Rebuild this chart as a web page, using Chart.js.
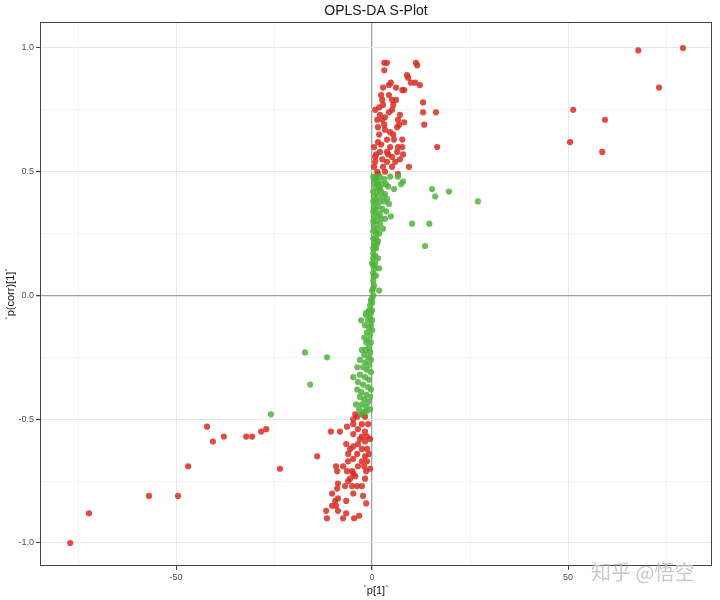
<!DOCTYPE html>
<html>
<head>
<meta charset="utf-8">
<script src="https://cdn.jsdelivr.net/npm/chart.js@4.4.0/dist/chart.umd.min.js"></script>
<style>
  html, body { margin: 0; padding: 0; background: #fff; }
  #wrap { width: 720px; height: 600px; }
</style>
</head>
<body>
<div id="wrap"><canvas id="splot"></canvas></div>
<script>
// [p[1], p(corr)[1]] pairs
const redOutliers = [
  [67.9, 0.99], [79.3, 1.0], [73.2, 0.84], [51.3, 0.75], [59.4, 0.71], [50.5, 0.62], [58.7, 0.58],
  [-77.0, -1.0], [-72.2, -0.88], [-56.9, -0.81], [-49.5, -0.81], [-46.9, -0.69], [-42.1, -0.53],
  [-40.6, -0.59], [-37.8, -0.57], [-32.1, -0.57], [-30.6, -0.57], [-28.3, -0.55], [-27.0, -0.54],
  [-23.5, -0.70], [-14.0, -0.65]
];
const redUpper = [
  [3.8, 0.94], [3.1, 0.94], [3.1, 0.91], [11.2, 0.94], [11.5, 0.93], [8.9, 0.89], [9.2, 0.88],
  [9.9, 0.86], [11.0, 0.86], [12.2, 0.85], [4.8, 0.86], [4.3, 0.85], [2.8, 0.84], [6.1, 0.84],
  [7.7, 0.83], [8.2, 0.83], [13.0, 0.78], [13.0, 0.74], [16.3, 0.74], [13.3, 0.69], [16.6, 0.60],
  [0.8, 0.75], [2.3, 0.81], [4.3, 0.81], [5.1, 0.79], [2.6, 0.79], [2.8, 0.77], [5.4, 0.77],
  [5.1, 0.75], [7.1, 0.73], [2.0, 0.73], [3.3, 0.72], [2.6, 0.71], [6.6, 0.71], [8.2, 0.70],
  [1.5, 0.68], [3.3, 0.67], [4.6, 0.66], [6.4, 0.68], [6.9, 0.69], [1.8, 0.65], [3.8, 0.63],
  [7.7, 0.63], [5.6, 0.63], [1.5, 0.62], [4.6, 0.60], [6.6, 0.60], [7.7, 0.60], [0.5, 0.60],
  [2.0, 0.58], [3.8, 0.58], [6.4, 0.58], [7.9, 0.57], [0.8, 0.56], [2.6, 0.55], [5.1, 0.56],
  [7.1, 0.55], [0.8, 0.54], [3.8, 0.54], [5.9, 0.54], [0.5, 0.52], [2.8, 0.52], [5.1, 0.52],
  [9.4, 0.52], [1.3, 0.50], [3.3, 0.50], [6.6, 0.49], [1.5, 0.49], [1.0, 0.57], [4.1, 0.57],
  [2.3, 0.61], [5.4, 0.65], [3.1, 0.69], [1.3, 0.71], [4.3, 0.74], [6.1, 0.79], [1.8, 0.76]
];
const redLower = [
  [-4.8, -0.50], [-3.8, -0.49], [-1.8, -0.49], [-2.6, -0.52], [-4.8, -0.52], [-1.0, -0.52],
  [-6.4, -0.53], [-10.5, -0.55], [-8.2, -0.55], [-3.6, -0.54], [-1.8, -0.55], [-4.8, -0.56],
  [-2.6, -0.57], [-1.3, -0.57], [-6.6, -0.60], [-3.6, -0.60], [-1.8, -0.59], [-4.8, -0.61],
  [-2.6, -0.62], [-1.3, -0.62], [-6.1, -0.64], [-3.8, -0.64], [-1.8, -0.65], [-4.8, -0.66],
  [-2.6, -0.67], [-1.3, -0.67], [-6.1, -0.67], [-3.6, -0.69], [-9.2, -0.69], [-7.4, -0.69],
  [-5.1, -0.71], [-1.5, -0.71], [-8.9, -0.71], [-6.4, -0.71], [-4.8, -0.72], [-4.3, -0.73],
  [-5.6, -0.74], [-1.8, -0.74], [-8.7, -0.76], [-6.1, -0.75], [-6.9, -0.77], [-5.1, -0.77],
  [-3.8, -0.77], [-2.6, -0.77], [-8.9, -0.78], [-4.8, -0.80], [-10.2, -0.80], [-2.3, -0.81],
  [-9.4, -0.83], [-6.6, -0.83], [-8.7, -0.82], [-1.5, -0.84], [-10.2, -0.85], [-9.2, -0.85],
  [-11.7, -0.87], [-8.7, -0.87], [-11.5, -0.90], [-7.4, -0.90], [-6.6, -0.88], [-4.6, -0.90],
  [-3.3, -0.89], [-4.3, -0.48], [-2.6, -0.48], [-0.5, -0.58], [-0.8, -0.64], [-3.1, -0.58],
  [-5.6, -0.62], [-2.0, -0.69], [-0.5, -0.70]
];
const greenOutliers = [
  [15.3, 0.43], [19.6, 0.42], [16.1, 0.40], [27.0, 0.38], [10.2, 0.29], [14.6, 0.29], [13.5, 0.20],
  [-25.8, -0.48], [-17.1, -0.23], [-11.5, -0.25], [-15.8, -0.36]
];
const greenUpper = [
  [0.3, 0.48], [1.0, 0.48], [2.0, 0.48], [3.1, 0.47], [4.6, 0.48], [6.6, 0.48], [7.9, 0.46],
  [7.4, 0.45], [0.5, 0.46], [1.5, 0.46], [2.6, 0.45], [3.6, 0.45], [0.8, 0.44], [1.8, 0.44],
  [4.1, 0.44], [5.6, 0.43], [0.3, 0.42], [1.3, 0.42], [2.3, 0.42], [3.3, 0.41], [0.5, 0.40],
  [1.5, 0.40], [2.8, 0.40], [3.8, 0.39], [0.3, 0.38], [1.0, 0.38], [2.0, 0.38], [4.3, 0.37],
  [0.5, 0.36], [1.5, 0.36], [2.6, 0.35], [0.3, 0.34], [1.0, 0.34], [2.0, 0.33], [3.6, 0.34],
  [4.8, 0.32], [0.5, 0.32], [1.5, 0.32], [3.3, 0.31], [0.3, 0.30], [1.0, 0.30], [2.0, 0.29],
  [0.5, 0.28], [1.3, 0.27], [2.8, 0.27], [0.3, 0.26], [1.0, 0.25], [1.8, 0.25], [0.3, 0.23],
  [1.0, 0.23], [0.5, 0.21], [1.3, 0.21], [0.3, 0.19], [1.0, 0.19], [0.3, 0.17], [0.8, 0.16],
  [1.5, 0.15], [0.3, 0.15], [0.8, 0.13], [0.3, 0.12], [0.8, 0.11], [1.8, 0.11], [0.3, 0.09],
  [0.5, 0.08], [0.3, 0.06], [0.5, 0.04], [0.3, 0.03], [1.8, 0.02], [0.0, 0.02], [0.3, 0.00],
  [0.8, 0.47], [1.3, 0.45], [2.0, 0.43], [3.1, 0.38], [2.3, 0.31], [1.5, 0.22], [0.8, 0.20],
  [0.0, 0.13], [1.0, 0.08]
];
const greenLower = [
  [0.0, -0.01], [-0.3, -0.02], [0.0, -0.03], [-0.5, -0.04], [0.0, -0.06], [-0.8, -0.06],
  [-0.3, -0.07], [-1.5, -0.07], [-1.5, -0.08], [-0.5, -0.09], [0.0, -0.10], [-2.8, -0.10],
  [-1.0, -0.10], [-0.3, -0.12], [-1.8, -0.12], [-0.8, -0.13], [0.0, -0.14], [-1.3, -0.15],
  [-0.5, -0.16], [-2.0, -0.17], [-1.0, -0.18], [-0.3, -0.19], [-1.5, -0.19], [-0.8, -0.21],
  [-2.6, -0.22], [-1.5, -0.22], [-0.5, -0.23], [-2.0, -0.24], [-1.0, -0.25], [-0.3, -0.26],
  [-3.1, -0.26], [-1.8, -0.27], [-0.8, -0.28], [-3.8, -0.29], [-2.3, -0.29], [-1.3, -0.30],
  [-0.3, -0.31], [-4.8, -0.33], [-3.1, -0.32], [-1.8, -0.33], [-0.8, -0.34], [-3.6, -0.35],
  [-2.3, -0.36], [-1.0, -0.37], [-0.3, -0.38], [-3.8, -0.38], [-2.8, -0.39], [-1.5, -0.40],
  [-0.5, -0.41], [-3.1, -0.41], [-2.0, -0.42], [-1.0, -0.43], [-4.1, -0.44], [-2.6, -0.44],
  [-1.5, -0.45], [-0.5, -0.46], [-3.3, -0.46], [-2.0, -0.47], [-2.8, -0.48], [-1.5, -0.47]
];
const xTickValues = [-75, -50, -25, 0, 25, 50, 75];
const yTickValues = [-1, -0.75, -0.5, -0.25, 0, 0.25, 0.5, 0.75, 1];
const xMajor = [-50, 0, 50];
const yMajor = [-1, -0.5, 0, 0.5, 1];

const toPts = arr => arr.map(p => ({ x: p[0], y: p[1] }));
const redPts = toPts([...redOutliers, ...redUpper, ...redLower]);
const greenPts = toPts([...greenOutliers, ...greenUpper, ...greenLower]);

const gridColor = (major) => ctx => {
  const v = ctx.tick ? ctx.tick.value : null;
  if (v === 0) return '#a0a0a0';
  return major.includes(v) ? '#e8e8e8' : '#f3f3f3';
};
const tickColor = (major) => ctx => {
  const v = ctx.tick ? ctx.tick.value : null;
  return major.includes(v) ? '#444' : 'rgba(0,0,0,0)';
};

const framePlugin = {
  id: 'frame',
  afterDraw(chart) {
    const { ctx, chartArea: a } = chart;
    ctx.save();
    ctx.strokeStyle = '#444';
    ctx.lineWidth = 1;
    ctx.strokeRect(a.left + 0.5, a.top + 0.5, a.right - a.left - 1, a.bottom - a.top - 1);
    // title
    ctx.fillStyle = '#1a1a1a';
    ctx.font = '14px "Liberation Sans", Arial, sans-serif';
    ctx.textAlign = 'center';
    ctx.textBaseline = 'middle';
    ctx.fillText('OPLS-DA S-Plot', (a.left + a.right) / 2, 11);
    // watermark
    ctx.fillStyle = 'rgba(190,190,190,0.85)';
    ctx.font = '20px "Noto Sans CJK SC", sans-serif';
    ctx.textAlign = 'left';
    ctx.fillText('知乎 @悟空', 591, 572);
    ctx.restore();
  }
};

new Chart(document.getElementById('splot').getContext('2d'), {
  type: 'scatter',
  data: {
    datasets: [
      { label: 'green', data: greenPts, backgroundColor: 'rgba(80,180,60,0.85)', borderWidth: 0, pointRadius: 3.1 },
      { label: 'red', data: redPts, backgroundColor: 'rgba(218,45,35,0.85)', borderWidth: 0, pointRadius: 3.1 }
    ]
  },
  options: {
    responsive: true,
    maintainAspectRatio: false,
    animation: false,
    layout: { padding: { top: 22, right: 8, left: 0, bottom: 0 } },
    plugins: { legend: { display: false }, tooltip: { enabled: false }, title: { display: false } },
    scales: {
      x: {
        type: 'linear',
        min: -84.7,
        max: 86.7,
        afterBuildTicks: s => { s.ticks = xTickValues.map(v => ({ value: v })); },
        afterFit: s => { s.height = 34; },
        border: { display: false },
        grid: { color: gridColor(xMajor), lineWidth: c => (c.tick && c.tick.value === 0 ? 1.3 : 1), tickLength: 4, tickColor: tickColor(xMajor) },
        ticks: {
          autoSkip: false, maxRotation: 0, padding: 2, color: '#4d4d4d',
          font: { size: 9, family: '"Liberation Sans", Arial, sans-serif' },
          callback: v => (xMajor.includes(v) ? String(v) : '')
        },
        title: { display: true, text: '`p[1]`', color: '#111', font: { size: 11, family: '"Liberation Sans", Arial, sans-serif' }, padding: { top: 2, bottom: 2 } }
      },
      y: {
        type: 'linear',
        min: -1.093,
        max: 1.105,
        afterBuildTicks: s => { s.ticks = yTickValues.map(v => ({ value: v })); },
        afterFit: s => { s.width = 40; },
        border: { display: false },
        grid: { color: gridColor(yMajor), lineWidth: c => (c.tick && c.tick.value === 0 ? 1.3 : 1), tickLength: 4, tickColor: tickColor(yMajor) },
        ticks: {
          autoSkip: false, padding: 2, color: '#4d4d4d',
          font: { size: 9, family: '"Liberation Sans", Arial, sans-serif' },
          callback: v => (yMajor.includes(v) ? v.toFixed(1) : '')
        },
        title: { display: true, text: '`p(corr)[1]`', color: '#111', font: { size: 11, family: '"Liberation Sans", Arial, sans-serif' }, padding: { top: 4, bottom: 0 } }
      }
    }
  },
  plugins: [framePlugin]
});
</script>
</body>
</html>
